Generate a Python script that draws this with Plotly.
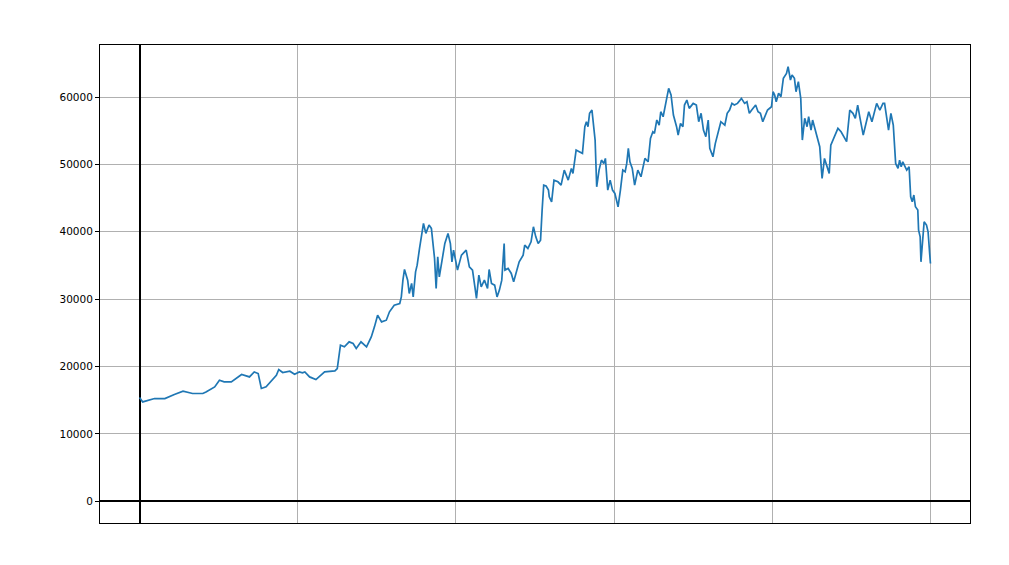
import plotly.graph_objects as go

# index positions and values
idx = [0, 4, 19, 32, 44, 55, 67, 80, 84, 95, 101, 107, 116, 120, 129, 139, 145, 150, 154, 160,
       166, 173, 176, 181, 190, 196, 202, 206, 209, 215, 223, 234, 247, 250, 254, 259, 265, 270,
       274, 280, 287, 293, 297, 301, 306, 312, 316, 322, 329, 331, 333, 335, 339, 341, 344, 346,
       349, 351, 354, 356, 359, 362, 366, 369, 371, 373, 375, 377, 379, 381, 383, 386, 390, 393,
       395, 397, 400, 402, 407, 411, 413, 417, 421, 424, 426, 429, 432, 436, 440, 442, 445, 449,
       452, 455, 458, 461, 462, 466, 470, 473, 476, 480, 485, 487, 491, 495, 498, 501, 504, 507,
       509, 511, 514, 517, 518, 521, 524, 529, 533, 537, 542, 546, 548, 552, 556, 560, 563, 565,
       567, 569, 572, 574, 576, 578, 581, 584, 587, 589, 592, 595, 598, 601, 605, 608, 611, 614,
       616, 618, 620, 623, 626, 630, 634, 639, 643, 646, 649, 651, 654, 657, 659, 662, 666, 669,
       672, 675, 679, 681, 684, 687, 689, 692, 695, 700, 704, 707, 710, 713, 716, 719, 721, 725,
       728, 731, 735, 740, 743, 746, 749, 752, 756, 761, 765, 768, 771, 774, 779, 782, 785, 788,
       791, 794, 799, 801, 803, 805, 808, 811, 814, 818, 820, 823, 825, 828, 830, 833, 836, 838,
       841, 844, 846, 849, 851, 855, 857, 860, 862, 863, 866, 869, 872, 874, 879, 883, 887, 891,
       894, 898, 902, 905, 908, 911, 915, 919, 922, 926, 930, 932, 936, 940, 942, 945, 947, 950,
       953, 956, 959, 961, 963, 965, 970, 973, 975, 977, 979, 981, 984, 985, 987, 988, 990, 992,
       995, 997, 999, 1000]

price = [15400, 14750, 15250, 15250, 15850, 16340, 16000, 16000, 16230, 16980, 17970, 17720, 17720,
         18070, 18820, 18460, 19200, 18960, 16740, 16980, 17720, 18710, 19560, 19110, 19310, 18860,
         19200, 19060, 19200, 18460, 18070, 19200, 19350, 19700, 23170, 22920, 23660, 23420, 22680,
         23660, 22920, 24400, 25890, 27620, 26630, 26880, 28120, 29110, 29360, 30340, 32820, 34410,
         32820, 30850, 32330, 30340, 34060, 35050, 37530, 39250, 41240, 39760, 41000, 40500, 37770,
         36050, 31590, 36280, 33310, 34800, 36050, 38270, 39760, 38270, 35540, 37280, 35540, 34310,
         36540, 37030, 37280, 34800, 34310, 31830, 30100, 33560, 31830, 32820, 31590, 34410, 32330,
         32080, 30340, 31340, 32820, 38270, 34310, 34560, 33820, 32580, 33820, 35540, 36540, 38020,
         37530, 38510, 40740, 39250, 38270, 38760, 43220, 46930, 46800, 46190, 45200, 44450, 47670,
         47420, 46930, 49160, 47670, 49410, 48670, 52130, 51880, 51640, 55600, 56340, 55600, 57580,
         58070, 55840, 53610, 46680, 49160, 50640, 50150, 50890, 46190, 47670, 46190, 45700, 43710,
         46190, 49160, 48910, 50150, 52380, 50390, 49410, 46930, 49160, 48170, 50890, 50390, 53860,
         54850, 54600, 56590, 55840, 57820, 57080, 59550, 61290, 60300, 57330, 55600, 54360, 56090,
         55600, 58810, 59550, 58320, 59060, 58810, 56340, 57580, 55100, 54110, 56590, 52380, 51140,
         53130, 54600, 56340, 55840, 57580, 58070, 59060, 58810, 59060, 59800, 59060, 59300, 57580,
         58070, 58810, 57820, 57580, 56340, 57330, 58070, 58560, 60790, 60300, 59300, 60550, 60050,
         62780, 63520, 64510, 62530, 63270, 62780, 60790, 62280, 59800, 53610, 56840, 55600, 57080,
         55100, 56590, 54850, 53610, 52620, 49410, 47920, 50890, 49900, 48670, 52870, 54110, 55350,
         54850, 53860, 53370, 58070, 57580, 56840, 58810, 56840, 54360, 56340, 57820, 56340, 58070,
         59060, 58070, 59060, 59060, 56340, 55100, 57580, 55840, 50150, 49410, 50640, 49650, 50390,
         49160, 49650, 45200, 44450, 45450, 43710, 43220, 40250, 39250, 35540, 38760, 41480, 40990,
         40000, 36780, 35300]

y_ticks = [0, 10000, 20000, 30000, 40000, 50000, 60000]
y_tick_text = ["0", "10000", "20000", "30000", "40000", "50000", "60000"]

fig = go.Figure()
fig.add_trace(go.Scatter(x=idx, y=price, mode="lines",
                         line=dict(color="#1f77b4", width=1.7), showlegend=False))

fig.update_layout(
    width=1009, height=565,
    margin=dict(l=92, r=47, t=37, b=50),
    paper_bgcolor="white", plot_bgcolor="white",
    font=dict(family="DejaVu Sans", size=10.5, color="black"),
)
fig.update_xaxes(range=[-50, 1050], tick0=0, dtick=200, showticklabels=False, ticks="",
                 showgrid=True, gridcolor="#b0b0b0", gridwidth=0.8,
                 zeroline=True, zerolinecolor="black", zerolinewidth=1.6,
                 showline=True, linecolor="black", linewidth=1, mirror=True)
fig.update_yaxes(range=[-3225, 67725], tickvals=y_ticks, ticktext=y_tick_text,
                 ticks="outside", ticklen=4, tickcolor="black", tickwidth=0.8,
                 showgrid=True, gridcolor="#b0b0b0", gridwidth=0.8,
                 zeroline=True, zerolinecolor="black", zerolinewidth=1.6,
                 showline=True, linecolor="black", linewidth=1, mirror=True)

fig.write_html("out.html")
